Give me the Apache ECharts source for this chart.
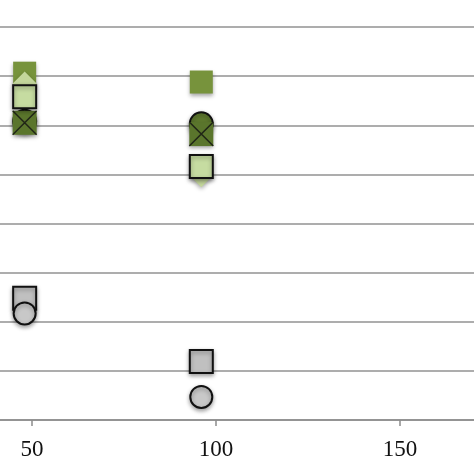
<!DOCTYPE html>
<html><head><meta charset="utf-8">
<script src="https://cdn.jsdelivr.net/npm/echarts@6/dist/echarts.min.js"></script>
<style>html,body{margin:0;padding:0;background:#fff}#c{width:474px;height:474px}</style>
</head><body><div id="c"></div>
<script>
const xValues = [48, 96];
const xTicks = [50, 100, 150];
const greySquare = [2.48, 1.19];
const greyCircle = [2.17, 0.47];
const oliveSquare = [7.06, 6.88];
const darkCircle = [6.08, 6.03];
const darkXSquare = [6.05, 5.82];
const lightDiamond = [6.85, 4.98];
const lightSquare = [6.58, 5.16];

const pts = ys => xValues.map((x, i) => [x, ys[i]]);
const shadow = {shadowColor: 'rgba(0,0,0,0.35)', shadowBlur: 4, shadowOffsetY: 2};
function s(name, ys, symbol, size, color, border, z, extra) {
  return Object.assign({
    name, type: 'scatter', data: pts(ys), symbol, symbolSize: size, z,
    itemStyle: Object.assign({color, borderColor: border || color, borderWidth: border ? 2 : 0, opacity: 1}, shadow),
    emphasis: {disabled: true}
  }, extra || {});
}
const chart = echarts.init(document.getElementById('c'), null, {renderer: 'canvas'});
chart.setOption({
  animation: false,
  backgroundColor: '#fff',
  grid: {left: 0, right: 0, top: 27, bottom: 54, containLabel: false},
  xAxis: {
    type: 'value', min: 41.3, max: 170.1,
    axisLine: {show: true, lineStyle: {color: '#8c8c8c', width: 1.5}},
    axisTick: {show: true, length: 6, customValues: xTicks, lineStyle: {color: '#8c8c8c', width: 1.5}},
    axisLabel: {fontFamily: 'Liberation Serif', fontSize: 23, color: '#111', margin: 18,
      customValues: xTicks, formatter: v => String(v)},
    splitLine: {show: false}
  },
  yAxis: {
    type: 'value', min: 0, max: 8, interval: 1,
    axisLine: {show: false}, axisTick: {show: false}, axisLabel: {show: false},
    splitLine: {show: true, lineStyle: {color: '#929292', width: 1.5}}
  },
  series: [
    s('Grey square', greySquare, 'rect', 23, '#c0c0c0', '#111', 2),
    s('Grey circle', greyCircle, 'circle', 22, '#c8c8c8', '#111', 3),
    s('Olive square', oliveSquare, 'rect', 23, '#77933c', null, 4),
    s('Dark circle', darkCircle, 'circle', 23, '#5f7a2e', '#111', 5),
    s('Dark X square', darkXSquare, 'rect', 24, '#5a752c', null, 6),
    s('Dark X', darkXSquare, 'path://M0,0L10,10M10,0L0,10', 24, 'none', '#111', 7,
      {itemStyle: {color: 'rgba(0,0,0,0)', borderColor: '#111', borderWidth: 1.5}}),
    s('Light diamond', lightDiamond, 'diamond', 24, '#c3d69b', null, 8),
    s('Light square', lightSquare, 'rect', 23, '#c6dca1', '#111', 9)
  ]
});
</script></body></html>
